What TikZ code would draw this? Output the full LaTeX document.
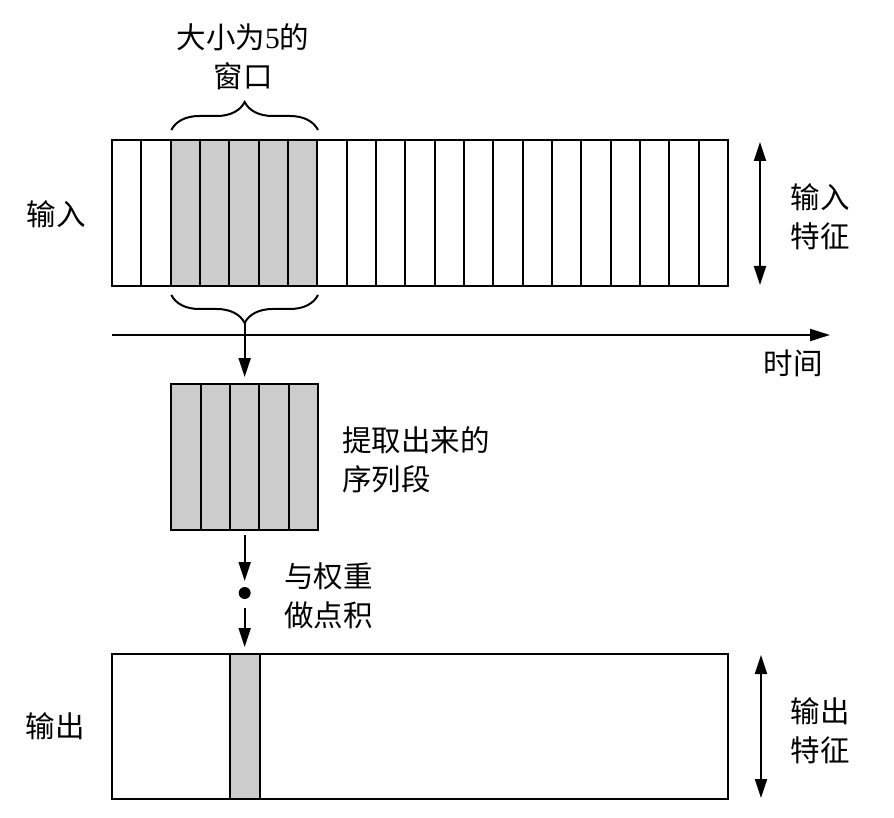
\documentclass[tikz,border=0pt]{standalone}
\usepackage{fontspec}
\setmainfont{Liberation Serif}
\newfontfamily\cjk{Noto Sans CJK SC}
\usetikzlibrary{arrows.meta,decorations.pathreplacing,calc}
\definecolor{cellgray}{HTML}{CCCCCC}
\begin{document}
\begin{tikzpicture}[x=1pt,y=-1pt,line width=2pt,
  cellbox/.style={draw,inner sep=0pt,outer sep=0pt,minimum width=29.33pt,minimum height=146pt,anchor=north west},
  graycell/.style={cellbox,fill=cellgray},
  bigbox/.style={draw,inner sep=0pt,outer sep=0pt},
  lbl/.style={inner sep=0pt,font=\cjk\fontsize{29.5}{39}\selectfont},
  arr/.style={-{Triangle[length=19pt,width=12pt]}},
  darr/.style={{Triangle[length=19pt,width=12pt]}-{Triangle[length=19pt,width=12pt]}},
  bracestyle/.style={decorate,decoration={brace,amplitude=28pt}}]
\useasboundingbox (0,0) rectangle (894,818);
% input strip
\foreach \i in {0,...,20}{
  \pgfmathsetmacro{\xx}{112+29.333*\i}
  \ifnum\i>1 \ifnum\i<7
    \node[graycell] (in\i) at (\xx,140) {};
  \else
    \node[cellbox] (in\i) at (\xx,140) {};
  \fi\else
    \node[cellbox] (in\i) at (\xx,140) {};
  \fi
}
% extracted segment
\node[bigbox,minimum width=146.67pt,minimum height=146pt] (seg) at (244.67,457) {};
\foreach \j in {0,...,4}{
  \pgfmathsetmacro{\xx}{171.33+29.333*\j}
  \node[graycell] (sg\j) at (\xx,384) {};
}
% output strip
\node[bigbox,minimum width=616pt,minimum height=145pt,anchor=north west] (out) at (112,654) {};
\node[graycell,minimum width=30pt,minimum height=145pt] (oc) at (230,654) {};
% braces
\coordinate (wa) at (171.33,130);
\coordinate (wb) at (318,130);
\draw[bracestyle] (wa) -- (wb);
\coordinate (ba) at (318,295);
\coordinate (bb) at (171.33,295);
\draw[bracestyle] (ba) -- (bb);
\coordinate (btip) at (244.67,323);
\draw[arr,shorten >=7pt] (btip) -- (seg.north);
% time axis
\coordinate (t0) at (112,335);
\coordinate (t1) at (830,335);
\draw[-{Triangle[length=20pt,width=12pt]}] (t0) -- (t1);
% dot product
\node[circle,fill,inner sep=0pt,minimum size=12pt] (dot) at (244.67,593) {};
\draw[arr,shorten <=5pt,shorten >=5pt] (seg.south) -- (dot.north);
\draw[arr,shorten <=8pt,shorten >=7pt] (dot.south) -- (out.north -| dot);
% feature arrows
\coordinate (fa) at (760,142);
\coordinate (fb) at (760,285);
\draw[darr] (fa) -- (fb);
\coordinate (ga) at (761,655);
\coordinate (gb) at (761,798);
\draw[darr] (ga) -- (gb);
% labels
\node[lbl,align=center] (wlbl) at (243,57) {大小为{\rmfamily 5}的\\窗口};
\node[lbl] (inl) at (56,214) {输入};
\node[lbl,align=center] (inf) at (820,217) {输入\\特征};
\node[lbl] (tl) at (793,363) {时间};
\node[lbl,align=left,anchor=west] (segl) at (341,460) {提取出来的\\序列段};
\node[lbl,align=left,anchor=west] (dotl) at (283,596) {与权重\\做点积};
\node[lbl] (outl) at (55,726) {输出};
\node[lbl,align=center] (outf) at (820,731) {输出\\特征};
\end{tikzpicture}
\end{document}
